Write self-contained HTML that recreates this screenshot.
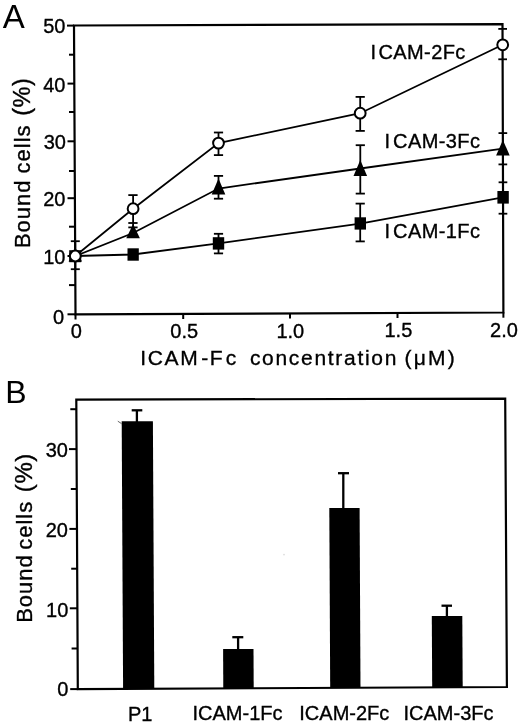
<!DOCTYPE html>
<html><head><meta charset="utf-8">
<style>
html,body{margin:0;padding:0;background:#fff;width:520px;height:726px;overflow:hidden}
svg{display:block}
text{font-family:"Liberation Sans",Arial,sans-serif;fill:#000;stroke:#000;stroke-width:0.35px}
</style></head>
<body>
<svg width="520" height="726" viewBox="0 0 520 726">
<rect width="520" height="726" fill="#fff"/>
<!-- ================= PANEL A ================= -->
<text x="2.7" y="27.7" font-size="33" style="stroke-width:0">A</text>
<!-- frame -->
<polygon points="74,25.5 502.5,24.1 503.4,312.5 75.5,314.3" fill="none" stroke="#000" stroke-width="2.2" stroke-linejoin="miter"/>
<!-- y ticks -->
<g stroke="#000" stroke-width="2">
<line x1="67.5" y1="314.3" x2="75.5" y2="314.3"/>
<line x1="69" y1="285.1" x2="75.3" y2="285.1"/>
<line x1="67.5" y1="256" x2="75.2" y2="256"/>
<line x1="69" y1="226.7" x2="75" y2="226.7"/>
<line x1="67.5" y1="198.2" x2="74.9" y2="198.2"/>
<line x1="69" y1="171" x2="74.7" y2="171"/>
<line x1="67.5" y1="141.3" x2="74.6" y2="141.3"/>
<line x1="69" y1="112" x2="74.4" y2="112"/>
<line x1="67.5" y1="83.6" x2="74.3" y2="83.6"/>
<line x1="69" y1="54.7" x2="74.1" y2="54.7"/>
<line x1="67" y1="25.6" x2="74" y2="25.6"/>
</g>
<!-- x ticks -->
<g stroke="#000" stroke-width="2">
<line x1="75.5" y1="314" x2="75.5" y2="319.5"/>
<line x1="183.2" y1="313.5" x2="183.2" y2="319"/>
<line x1="290" y1="313" x2="290" y2="318.5"/>
<line x1="397.5" y1="312.7" x2="397.5" y2="318"/>
<line x1="503.4" y1="312.3" x2="503.4" y2="317.7"/>
</g>
<!-- y labels -->
<g font-size="20" text-anchor="end">
<text x="65.5" y="33">50</text>
<text x="65.5" y="91.6">40</text>
<text x="66" y="149.2">30</text>
<text x="65.5" y="206.1">20</text>
<text x="65.5" y="264.2">10</text>
<text x="64" y="324.3">0</text>
</g>
<!-- x labels -->
<g font-size="20" text-anchor="middle">
<text x="76.2" y="337.9">0</text>
<text x="184.2" y="337.8">0.5</text>
<text x="290.3" y="337.5">1.0</text>
<text x="398.4" y="337">1.5</text>
<text x="504" y="336.5">2.0</text>
</g>
<!-- axis titles -->
<g font-size="21" letter-spacing="1.7">
<text x="140.2" y="365.2">ICAM<tspan dx="1.8">-</tspan><tspan dx="-0.2">F</tspan><tspan dx="1.4">c</tspan></text>
<text x="249.9" y="365.2">concentration</text>
<text x="404.6" y="365" letter-spacing="2.2">(μM)</text>
</g>
<g font-size="22" letter-spacing="1">
<text transform="translate(30.2,248.1) rotate(-90)">Bound</text>
<text transform="translate(30.2,173.4) rotate(-90)">cells</text>
<text transform="translate(29.9,115.8) rotate(-90)" font-size="23.5" letter-spacing="0.5">(%)</text>
</g>

<!-- series lines -->
<g fill="none" stroke="#000" stroke-width="1.8">
<polyline points="75.3,256 133.1,208.7 218.5,143.1 360.2,113.2 502.7,44.8"/>
<polyline points="75.3,256 133.1,233 218.5,188.5 360.3,168.5 502.9,148.6"/>
<polyline points="75.3,256 133.1,254.5 218.5,243.4 360.2,223.6 502.9,197.3"/>
</g>
<!-- error bars -->
<g stroke="#000" stroke-width="1.8">
<!-- col1 -->
<line x1="75.3" y1="241.2" x2="75.3" y2="269.2"/>
<line x1="70.8" y1="241.2" x2="79.8" y2="241.2"/>
<line x1="70.8" y1="269.2" x2="79.8" y2="269.2"/>
<!-- col2 circle -->
<line x1="133.1" y1="195.1" x2="133.1" y2="223"/>
<line x1="128.3" y1="195.1" x2="137.6" y2="195.1"/>
<line x1="128.3" y1="223" x2="137.6" y2="223"/>
<!-- col2 tri -->
<line x1="128.3" y1="227.4" x2="137.6" y2="227.4"/>
<line x1="133.1" y1="223" x2="133.1" y2="232"/>
<!-- col3 -->
<line x1="218.5" y1="132.5" x2="218.5" y2="155.1"/>
<line x1="213.9" y1="132.5" x2="223.1" y2="132.5"/>
<line x1="213.9" y1="155.1" x2="223.1" y2="155.1"/>
<line x1="218.5" y1="175.9" x2="218.5" y2="198.7"/>
<line x1="213.9" y1="175.9" x2="223.1" y2="175.9"/>
<line x1="213.9" y1="198.7" x2="223.1" y2="198.7"/>
<line x1="218.5" y1="233.8" x2="218.5" y2="253.4"/>
<line x1="213.9" y1="233.8" x2="223.1" y2="233.8"/>
<line x1="213.9" y1="253.4" x2="223.1" y2="253.4"/>
<!-- col4 -->
<line x1="360.2" y1="96.9" x2="360.2" y2="130.9"/>
<line x1="355.6" y1="96.9" x2="364.8" y2="96.9"/>
<line x1="355.6" y1="130.9" x2="364.8" y2="130.9"/>
<line x1="360.3" y1="145.2" x2="360.3" y2="193.6"/>
<line x1="355.7" y1="145.2" x2="364.9" y2="145.2"/>
<line x1="355.7" y1="193.6" x2="364.9" y2="193.6"/>
<line x1="360.2" y1="203.6" x2="360.2" y2="241.4"/>
<line x1="355.6" y1="203.6" x2="364.8" y2="203.6"/>
<line x1="355.6" y1="241.4" x2="364.8" y2="241.4"/>
<!-- col5 -->
<line x1="498.3" y1="28.9" x2="507" y2="28.9"/>
<line x1="498.3" y1="59.3" x2="507" y2="59.3"/>
<line x1="498.5" y1="133.1" x2="507.2" y2="133.1"/>
<line x1="498.5" y1="164.4" x2="507.2" y2="164.4"/>
<line x1="498.6" y1="182.3" x2="507.3" y2="182.3"/>
<line x1="498.6" y1="213.7" x2="507.3" y2="213.7"/>
</g>
<!-- markers: squares -->
<g fill="#000">
<rect x="69.2" y="250.2" width="12" height="12"/>
<rect x="127.5" y="248.3" width="11.3" height="12.4"/>
<rect x="212.8" y="237.2" width="11.4" height="12.4"/>
<rect x="354.6" y="217.3" width="11.4" height="12.3"/>
<rect x="497.4" y="191" width="11.4" height="12.6"/>
</g>
<!-- triangles -->
<g fill="#000">
<polygon points="75.3,247.5 68.6,261.5 82,261.5"/>
<polygon points="133.1,224 126.3,238.2 139.9,238.2"/>
<polygon points="218.5,178.5 211.7,194.6 225.3,194.6"/>
<polygon points="360.3,160 353.5,176 367.1,176"/>
<polygon points="502.9,140 496.1,155.6 509.7,155.6"/>
</g>
<!-- circles -->
<g fill="#fff" stroke="#000" stroke-width="2">
<circle cx="75.3" cy="256" r="5.4"/>
<circle cx="133.1" cy="208.7" r="5.4"/>
<circle cx="218.5" cy="143.1" r="5.4"/>
<circle cx="360.2" cy="113.2" r="5.4"/>
<circle cx="502.7" cy="44.8" r="5.4"/>
</g>
<!-- legend labels -->
<g font-size="20" letter-spacing="0.4">
<text x="370.5" y="58.7">I<tspan dx="2">CAM-2Fc</tspan></text>
<text x="384.6" y="148.3">I<tspan dx="2.5">CAM-3Fc</tspan></text>
<text x="384.6" y="238.3">I<tspan dx="2.5">CAM-1Fc</tspan></text>
</g>

<!-- ================= PANEL B ================= -->
<text x="5.3" y="402.6" font-size="32" style="stroke-width:0">B</text>
<polygon points="76.3,399.6 505.2,398.7 506.9,687 77.8,689.1" fill="none" stroke="#000" stroke-width="2.2"/>
<g stroke="#000" stroke-width="2">
<line x1="70.2" y1="689.1" x2="77.8" y2="689.1"/>
<line x1="71.6" y1="648.5" x2="77.6" y2="648.5"/>
<line x1="69.8" y1="608.3" x2="77.4" y2="608.3"/>
<line x1="71.2" y1="568.7" x2="77.2" y2="568.7"/>
<line x1="69.4" y1="528.9" x2="77.0" y2="528.9"/>
<line x1="70.8" y1="489" x2="76.8" y2="489"/>
<line x1="69.0" y1="449.1" x2="76.6" y2="449.1"/>
<line x1="70.3" y1="409.2" x2="76.3" y2="409.2"/>
</g>
<g font-size="20" text-anchor="end">
<text x="68" y="457.2">30</text>
<text x="68" y="536.8">20</text>
<text x="68.3" y="617">10</text>
<text x="68.3" y="696">0</text>
</g>
<g font-size="22" letter-spacing="1">
<text transform="translate(32,622.8) rotate(-90)">Bound</text>
<text transform="translate(32,549.8) rotate(-90)">cells</text>
<text transform="translate(31.7,492.2) rotate(-90)" font-size="24" letter-spacing="0.6">(%)</text>
</g>
<circle cx="284" cy="554.6" r="0.9" fill="#ddd"/>
<!-- bars -->
<g fill="#000">
<polygon points="121.7,421.3 152.9,421.3 154.3,689 123.1,689"/>
<line x1="117.8" y1="421.2" x2="121.5" y2="423.6" stroke="#555" stroke-width="0.9"/>
<polygon points="223.1,649 253.5,649 253.7,688.6 223.3,688.6"/>
<polygon points="329.3,507.9 359.6,507.9 360.5,688 330.2,688"/>
<polygon points="431.8,616.1 462.3,616.1 462.7,687.5 432.2,687.5"/>
</g>
<g stroke="#000" stroke-width="2.3">
<line x1="136.9" y1="410.3" x2="136.9" y2="422"/>
<line x1="131.7" y1="410.3" x2="142.3" y2="410.3"/>
<line x1="238.1" y1="637.2" x2="238.1" y2="650"/>
<line x1="232.3" y1="637.2" x2="243.3" y2="637.2"/>
<line x1="343.3" y1="473.2" x2="343.3" y2="508"/>
<line x1="338" y1="473.2" x2="349" y2="473.2"/>
<line x1="446.9" y1="605.7" x2="446.9" y2="617"/>
<line x1="441.5" y1="605.7" x2="452" y2="605.7"/>
</g>
<g font-size="20">
<text x="128" y="721">P1</text>
<text x="192.5" y="720">ICAM-1Fc</text>
<text x="299.3" y="719.5">ICAM-2Fc</text>
<text x="403.5" y="719.5">ICAM-3Fc</text>
</g>
</svg>
</body></html>
